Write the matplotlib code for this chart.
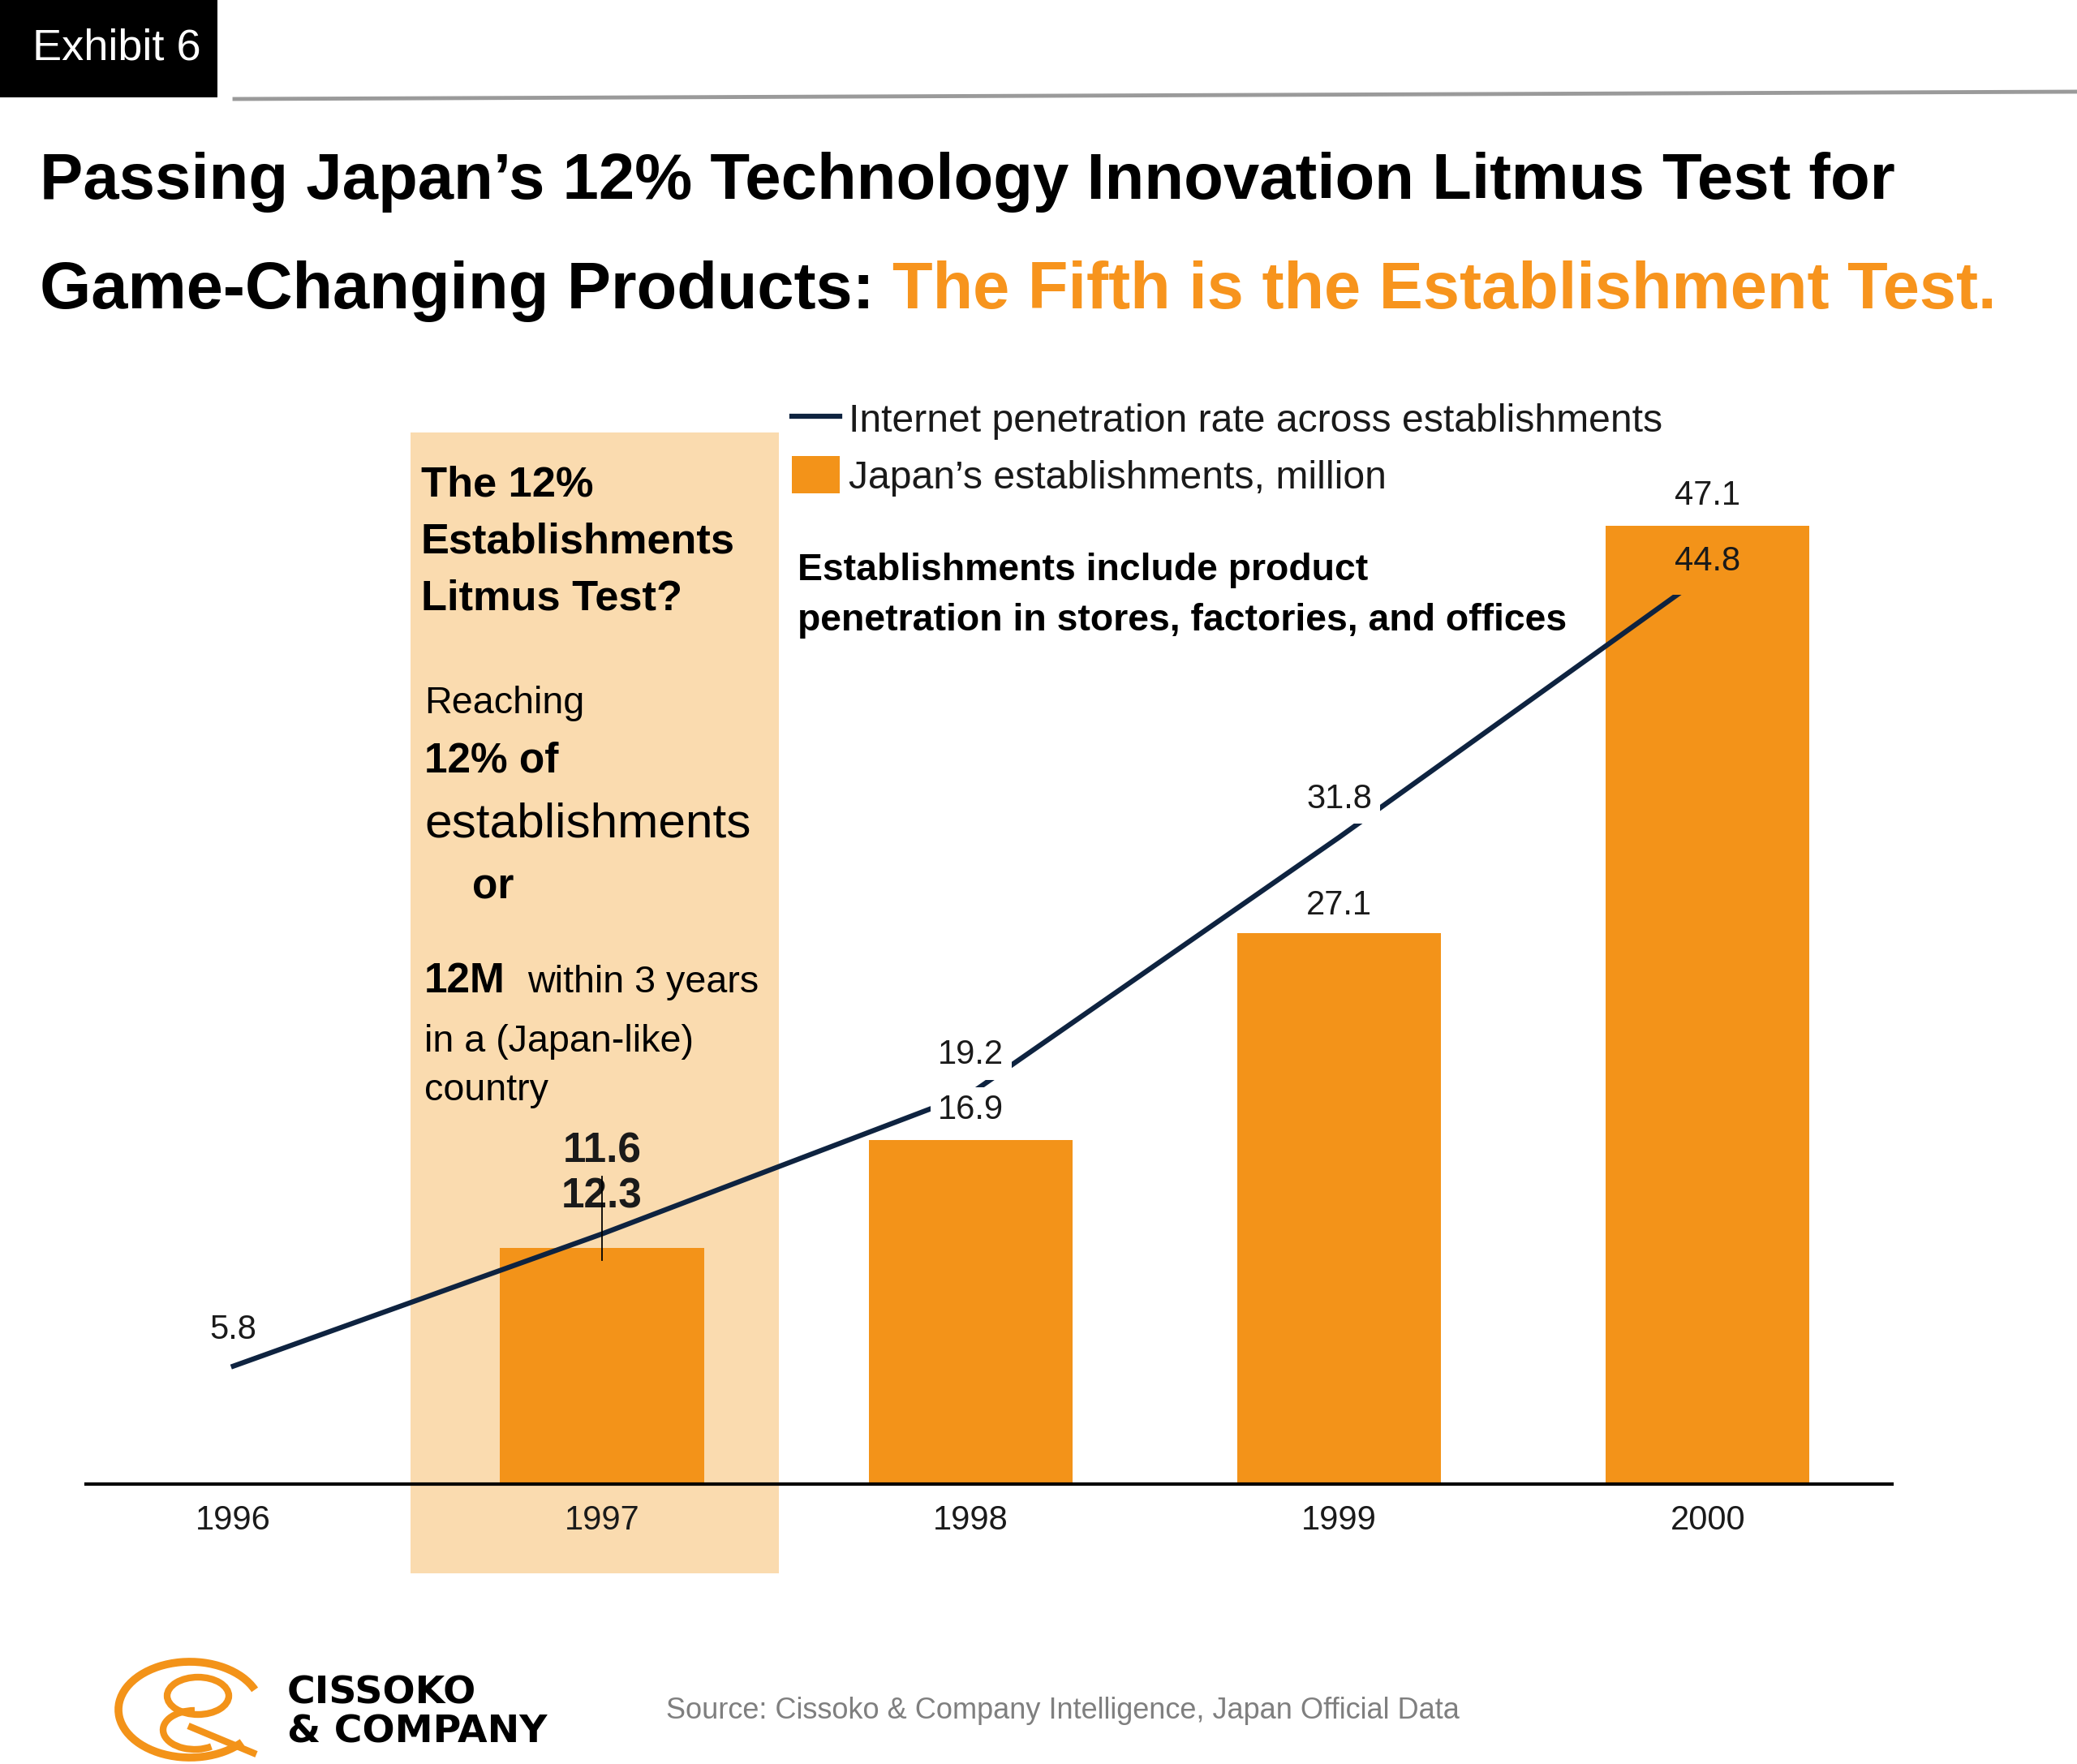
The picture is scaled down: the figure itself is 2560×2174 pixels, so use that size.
import numpy as np
import matplotlib
matplotlib.use('Agg')
import matplotlib.pyplot as plt
from matplotlib.patches import Rectangle, Arc, Ellipse

years = ['1996', '1997', '1998', '1999', '2000']
establishments = [np.nan, 11.6, 16.9, 27.1, 47.1]   # Japan's establishments, million
penetration = [5.8, 12.3, 19.2, 31.8, 44.8]          # internet penetration rate, %
bar_labels = ['', '11.6', '16.9', '27.1', '47.1']
line_labels = ['5.8', '12.3', '19.2', '31.8', '44.8']

ORANGE = '#F39319'
TITLE_ORANGE = '#F7941D'
SHADE = '#FADBAF'
NAVY = '#0E2340'
INK = '#1a1a1a'

FONT = 'Liberation Sans'

W, H = 2560, 2174
fig = plt.figure(figsize=(W / 100, H / 100), dpi=100)

# main chart axes (one x unit = one year slot)
x = np.arange(len(years))
ax = fig.add_axes([106 / W, 345 / H, 2226 / W, 1504 / H])
ax.set_xlim(-0.4, 4.5)
ax.set_ylim(0, 60)
ax.patch.set_visible(False)
for s in ['left', 'right', 'top']:
    ax.spines[s].set_visible(False)
ax.spines['bottom'].set_linewidth(3)
ax.spines['bottom'].set_zorder(5)
ax.set_yticks([])
ax.set_xticks(x)
ax.set_xticklabels(years, fontfamily=FONT, fontsize=30, color=INK)
ax.tick_params(axis='x', length=0, pad=18)

# highlighted 1997 window
ax.add_patch(Rectangle((0.48, -4.4), 1.0, 56.1, facecolor=SHADE,
                       edgecolor='none', zorder=0, clip_on=False))

bars = ax.bar(x, establishments, width=0.553, color=ORANGE, zorder=1)
line, = ax.plot(x, penetration, color=NAVY, lw=4.5, zorder=3)

# value labels on bars
bar_off = [0, 86, 27, 24, 27]
for xi, v, lab, off in zip(x, establishments, bar_labels, bar_off):
    if not lab:
        continue
    ax.annotate(lab, (xi, v), xytext=(0, off), textcoords='offset points',
                ha='center', va='center', fontfamily=FONT,
                fontsize=37 if xi == 1 else 30,
                fontweight='bold' if xi == 1 else 'normal', color=INK, zorder=6)

# value labels on line (white / orange boxes cut the line like the original)
line_off = [32, 33, 34, 34, 10]
line_box = [None, None, ('white', 0.25), ('white', 0.25), (ORANGE, 0.5)]
for xi, v, lab, off, box in zip(x, penetration, line_labels, line_off, line_box):
    bbox = dict(boxstyle=f'square,pad={box[1]}', fc=box[0], ec='none') if box else None
    ax.annotate(lab, (xi, v), xytext=(0, off), textcoords='offset points',
                ha='center', va='center', fontfamily=FONT,
                fontsize=37 if xi == 1 else 30,
                fontweight='bold' if xi == 1 else 'normal', color=INK,
                bbox=bbox, zorder=6)
# the 16.9 label also cuts the line
ax.texts[1].set_bbox(dict(boxstyle='square,pad=0.2', fc='white', ec='none'))

# little leader tick at 1997
ax.plot([1, 1], [establishments[1] - 0.6, penetration[1] + 2.8], color='black', lw=1.3, zorder=7)

leg = fig.legend(handles=[line, bars],
                 labels=['Internet penetration rate across establishments',
                         'Japan’s establishments, million'],
                 loc='upper left', bbox_to_anchor=(976 / W, 1 - 493 / H),
                 frameon=False, borderpad=0, borderaxespad=0,
                 handlelength=1.22, handleheight=1.08, handletextpad=0.23,
                 labelspacing=0.42, prop={'family': FONT, 'size': 34.7})
for t in leg.get_texts():
    t.set_color(INK)

# overlay in pixel coordinates for the page furniture
deco = fig.add_axes([0, 0, 1, 1])
deco.set_xlim(0, W)
deco.set_ylim(H, 0)
deco.axis('off')
deco.patch.set_visible(False)

deco.add_patch(Rectangle((0, 0), 268, 120, facecolor='black', edgecolor='none'))
deco.text(40, 60, 'Exhibit 6', color='white', fontfamily=FONT, fontsize=39, va='center')
deco.plot([289, W], [122, 113], color='#9a9a9a', lw=3.5)

deco.text(49, 245, 'Passing Japan’s 12% Technology Innovation Litmus Test for',
          fontfamily=FONT, fontweight='bold', fontsize=57.4, va='baseline')
t2 = deco.text(49, 380, 'Game-Changing Products:', fontfamily=FONT,
               fontweight='bold', fontsize=58.5, va='baseline')
deco.annotate('The Fifth is the Establishment Test.', xy=(1, 0), xycoords=t2,
              xytext=(16, 0), textcoords='offset points', va='bottom',
              fontfamily=FONT, fontweight='bold', fontsize=58.5, color=TITLE_ORANGE)

# text inside the highlighted window
box_lines = [
    ('The 12%', 519, 611, 'bold', 37.7),
    ('Establishments', 519, 681, 'bold', 37.7),
    ('Litmus Test?', 519, 751, 'bold', 37.7),
    ('Reaching', 523, 879, 'normal', 33.6),
    ('12% of', 523, 952, 'bold', 37),
    ('establishments', 523, 1032, 'normal', 43.5),
    ('or', 582, 1108, 'bold', 37),
    ('12M', 523, 1223, 'bold', 37),
    ('within 3 years', 650, 1223, 'normal', 33.6),
    ('in a (Japan-like)', 523, 1296, 'normal', 33.6),
    ('country', 523, 1356, 'normal', 33.6),
]
for txt, px, py, wt, fs in box_lines:
    deco.text(px, py, txt, fontfamily=FONT, fontweight=wt, fontsize=fs,
              va='baseline', color='black')

deco.text(983, 715, 'Establishments include product', fontfamily=FONT,
          fontweight='bold', fontsize=33.4, va='baseline', color='black')
deco.text(983, 777, 'penetration in stores, factories, and offices', fontfamily=FONT,
          fontweight='bold', fontsize=33.4, va='baseline', color='black')

# logo
deco.add_patch(Arc((234, 2107), 176, 118, theta1=32, theta2=343, color=ORANGE, lw=7))
deco.add_patch(Ellipse((244, 2090), 76, 46, fill=False, ec=ORANGE, lw=6))
deco.add_patch(Arc((240, 2132), 78, 48, theta1=45, theta2=270, color=ORANGE, lw=6))
deco.plot([232, 316], [2127, 2162], color=ORANGE, lw=6, solid_capstyle='butt')
deco.text(354, 2100, 'CISSOKO', fontfamily='DejaVu Sans', fontweight='bold',
          fontsize=34, va='baseline', color='black')
deco.text(354, 2148, '& COMPANY', fontfamily='DejaVu Sans', fontweight='bold',
          fontsize=34, va='baseline', color='black')
deco.text(821, 2118, 'Source: Cissoko & Company Intelligence, Japan Official Data',
          fontfamily=FONT, fontsize=26, va='baseline', color='#7f7f7f')

fig.savefig('out.png', dpi=100, facecolor='white')
